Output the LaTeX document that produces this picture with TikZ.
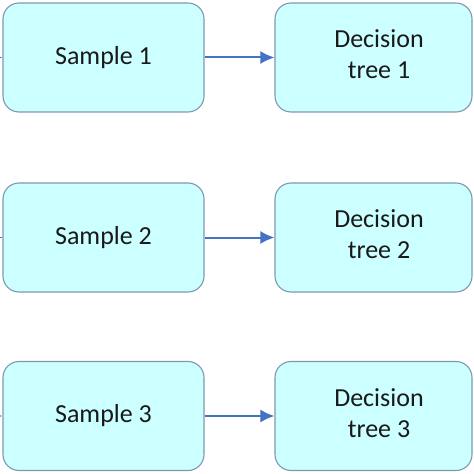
\documentclass[tikz,border=0pt]{standalone}
\usepackage{fontspec}
\setmainfont{Carlito}
\usetikzlibrary{arrows.meta}
\definecolor{boxfill}{HTML}{CCFFFF}
\definecolor{boxline}{HTML}{7F98B0}
\definecolor{arrowblue}{HTML}{4472C4}
\tikzset{
  box/.style={draw=boxline, fill=boxfill, line width=1.1bp, rounded corners=16bp,
    inner sep=0pt, font=\fontsize{26bp}{31bp}\selectfont, align=center, text=black!90},
  samplebox/.style={box, minimum width=201bp, minimum height=109bp},
  treebox/.style={box, minimum width=197bp, minimum height=109bp},
  link/.style={draw=arrowblue, line width=2bp, -{Latex[length=14bp,width=13bp]}},
  stub/.style={draw=arrowblue, line width=1.2bp}
}
\begin{document}
\begin{tikzpicture}[x=1bp,y=-1bp]
\useasboundingbox (0,0) rectangle (474,474);
\clip (0,0) rectangle (474,474);
% sample boxes
\node[samplebox] (s1) at (103.5,57.5) {Sample 1};
\node[samplebox] (s2) at (103.5,237.5) {Sample 2};
\node[samplebox] (s3) at (103.5,416) {Sample 3};
% decision tree boxes
\node[treebox] (t1) at (373.5,57.5) {};
\node[treebox] (t2) at (373.5,237.5) {};
\node[treebox] (t3) at (373.5,416) {};
\node[font=\fontsize{26bp}{31bp}\selectfont, align=center, text=black!90] (l1) at (379,54) {Decision\\tree 1};
\node[font=\fontsize{26bp}{31bp}\selectfont, align=center, text=black!90] (l2) at (379,234) {Decision\\tree 2};
\node[font=\fontsize{26bp}{31bp}\selectfont, align=center, text=black!90] (l3) at (379,413) {Decision\\tree 3};
% arrows
\draw[link] (s1) -- (t1);
\draw[link] (s2) -- (t2);
\draw[link] (s3) -- (t3);
% incoming stubs from the left (cut off)
\coordinate (i1) at (-30,57.5);
\coordinate (i2) at (-30,237.5);
\coordinate (i3) at (-30,416);
\draw[link] (i1) -- (s1.west);
\draw[stub] (i2) -- (s2.west);
\draw[link] (i3) -- (s3.west);
\end{tikzpicture}
\end{document}
